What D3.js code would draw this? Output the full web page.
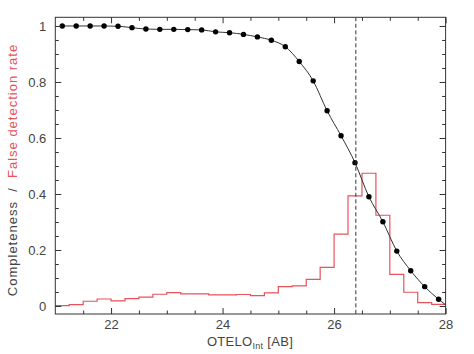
<!DOCTYPE html>
<html>
<head>
<meta charset="utf-8">
<script src="https://cdn.jsdelivr.net/npm/d3@7"></script>
<style>
  html, body { margin: 0; padding: 0; background: #fff; }
  svg { display: block; }
  text { font-family: "Liberation Sans", Arial, Helvetica, sans-serif; }
</style>
</head>
<body>
<svg id="chart" width="474" height="354"></svg>
<script>
// ---- data ----
const magCenters = [21.125,21.375,21.625,21.875,22.125,22.375,22.625,22.875,23.125,23.375,
  23.625,23.875,24.125,24.375,24.625,24.875,25.125,25.375,25.625,25.875,
  26.125,26.375,26.625,26.875,27.125,27.375,27.625,27.875];
const completeness = [1.0,1.0,1.0,1.0,0.999,0.994,0.989,0.988,0.988,0.987,
  0.986,0.979,0.976,0.970,0.961,0.949,0.926,0.873,0.804,0.697,
  0.608,0.512,0.390,0.301,0.196,0.126,0.069,0.024];
const fitEndMag = [28.0];
const fitEndValue = [0.004];
const binEdges = [21.0,21.25,21.5,21.75,22.0,22.25,22.5,22.75,23.0,23.25,23.5,23.75,24.0,24.25,
  24.5,24.75,25.0,25.25,25.5,25.75,26.0,26.25,26.5,26.75,27.0,27.25,27.5,27.75,28.0];
const falseRate = [0.001,0.005,0.017,0.025,0.018,0.026,0.032,0.042,0.048,0.043,0.043,0.040,0.040,0.041,
  0.037,0.047,0.069,0.072,0.095,0.138,0.257,0.393,0.474,0.324,0.113,0.049,0.012,0.006];
const limitMag = 26.39;
const xTicks = [22, 24, 26, 28];
const yTicks = [0, 0.2, 0.4, 0.6, 0.8, 1];
const yTickLabels = ["0", "0.2", "0.4", "0.6", "0.8", "1"];

// ---- layout ----
const svg = d3.select("#chart");
const L = 55.3, R = 445.6, T = 17.3, B = 314;
const x = d3.scaleLinear().domain([21, 28]).range([L, R]);
const y = d3.scaleLinear().domain([-0.0286, 1.031]).range([B, T]);

const frameCol = "#333";
const red = "#e8525a";

// histogram (step)
const histPts = binEdges.map((e, i) => [e, i < falseRate.length ? falseRate[i] : falseRate[falseRate.length - 1]]);
svg.append("path")
  .attr("d", d3.line().x(d => x(d[0])).y(d => y(d[1])).curve(d3.curveStepAfter)(histPts))
  .attr("fill", "none").attr("stroke", red).attr("stroke-width", 1.2);

// completeness curve
const curvePts = magCenters.map((m, i) => [m, completeness[i]]).concat(fitEndMag.map((m, i) => [m, fitEndValue[i]]));
svg.append("path")
  .attr("d", d3.line().x(d => x(d[0])).y(d => y(d[1])).curve(d3.curveMonotoneX)(curvePts))
  .attr("fill", "none").attr("stroke", "#333").attr("stroke-width", 1);

svg.selectAll("circle.pt").data(magCenters).enter().append("circle")
  .attr("class", "pt")
  .attr("cx", d => x(d)).attr("cy", (d, i) => y(completeness[i])).attr("r", 2.7)
  .attr("fill", "#000");

// dashed limit line
svg.append("line")
  .attr("x1", x(limitMag)).attr("x2", x(limitMag)).attr("y1", T).attr("y2", B)
  .attr("stroke", "#333").attr("stroke-width", 1).attr("stroke-dasharray", "4,2.5");

// frame
svg.append("rect").attr("x", L).attr("y", T).attr("width", R - L).attr("height", B - T)
  .attr("fill", "none").attr("stroke", frameCol).attr("stroke-width", 1);

// axes with inward ticks
const xMinor = d3.range(21.5, 28, 0.5).filter(v => Math.abs(v - Math.round(v / 2) * 2) > 1e-6);
const yMinor = d3.range(0.05, 1.0001, 0.05).filter(v => Math.abs(v * 5 - Math.round(v * 5)) > 1e-6);

function styleAxis(g) {
  g.select(".domain").remove();
  g.selectAll("line").attr("stroke", frameCol);
  g.selectAll("text").attr("fill", "#444").style("font-size", "13px");
}
// bottom
svg.append("g").attr("transform", `translate(0,${B})`)
  .call(d3.axisBottom(x).tickValues(xTicks).tickSize(-6).tickPadding(6).tickFormat(d3.format("d")))
  .call(styleAxis);
svg.append("g").attr("transform", `translate(0,${B})`)
  .call(d3.axisBottom(x).tickValues(xMinor).tickSize(-3.5).tickFormat(""))
  .call(styleAxis);
// top
svg.append("g").attr("transform", `translate(0,${T})`)
  .call(d3.axisTop(x).tickValues(xTicks).tickSize(-6).tickFormat(""))
  .call(styleAxis);
svg.append("g").attr("transform", `translate(0,${T})`)
  .call(d3.axisTop(x).tickValues(xMinor).tickSize(-3.5).tickFormat(""))
  .call(styleAxis);
// left
svg.append("g").attr("transform", `translate(${L},0)`)
  .call(d3.axisLeft(y).tickValues(yTicks).tickSize(-6).tickPadding(9).tickFormat((d, i) => yTickLabels[i]))
  .call(styleAxis);
svg.append("g").attr("transform", `translate(${L},0)`)
  .call(d3.axisLeft(y).tickValues(yMinor).tickSize(-3.5).tickFormat(""))
  .call(styleAxis);
// right
svg.append("g").attr("transform", `translate(${R},0)`)
  .call(d3.axisRight(y).tickValues(yTicks).tickSize(-6).tickFormat(""))
  .call(styleAxis);
svg.append("g").attr("transform", `translate(${R},0)`)
  .call(d3.axisRight(y).tickValues(yMinor).tickSize(-3.5).tickFormat(""))
  .call(styleAxis);

// x label
const xl = svg.append("text").attr("x", 250).attr("y", 346).attr("text-anchor", "middle")
  .attr("fill", "#444").style("font-size", "13px").style("letter-spacing", "0.3px");
xl.append("tspan").text("OTELO");
xl.append("tspan").attr("dy", 3).style("font-size", "9px").text("Int");
xl.append("tspan").attr("dy", -3).text("  [AB]");

// y label
const yl = svg.append("text").attr("transform", `translate(17,${170}) rotate(-90)`)
  .attr("text-anchor", "middle").style("font-size", "13px").style("letter-spacing", "1px")
  .attr("xml:space", "preserve");
yl.append("tspan").attr("fill", "#444").text("Completeness  /  ");
yl.append("tspan").attr("fill", red).text("False detection rate");
</script>
</body>
</html>
